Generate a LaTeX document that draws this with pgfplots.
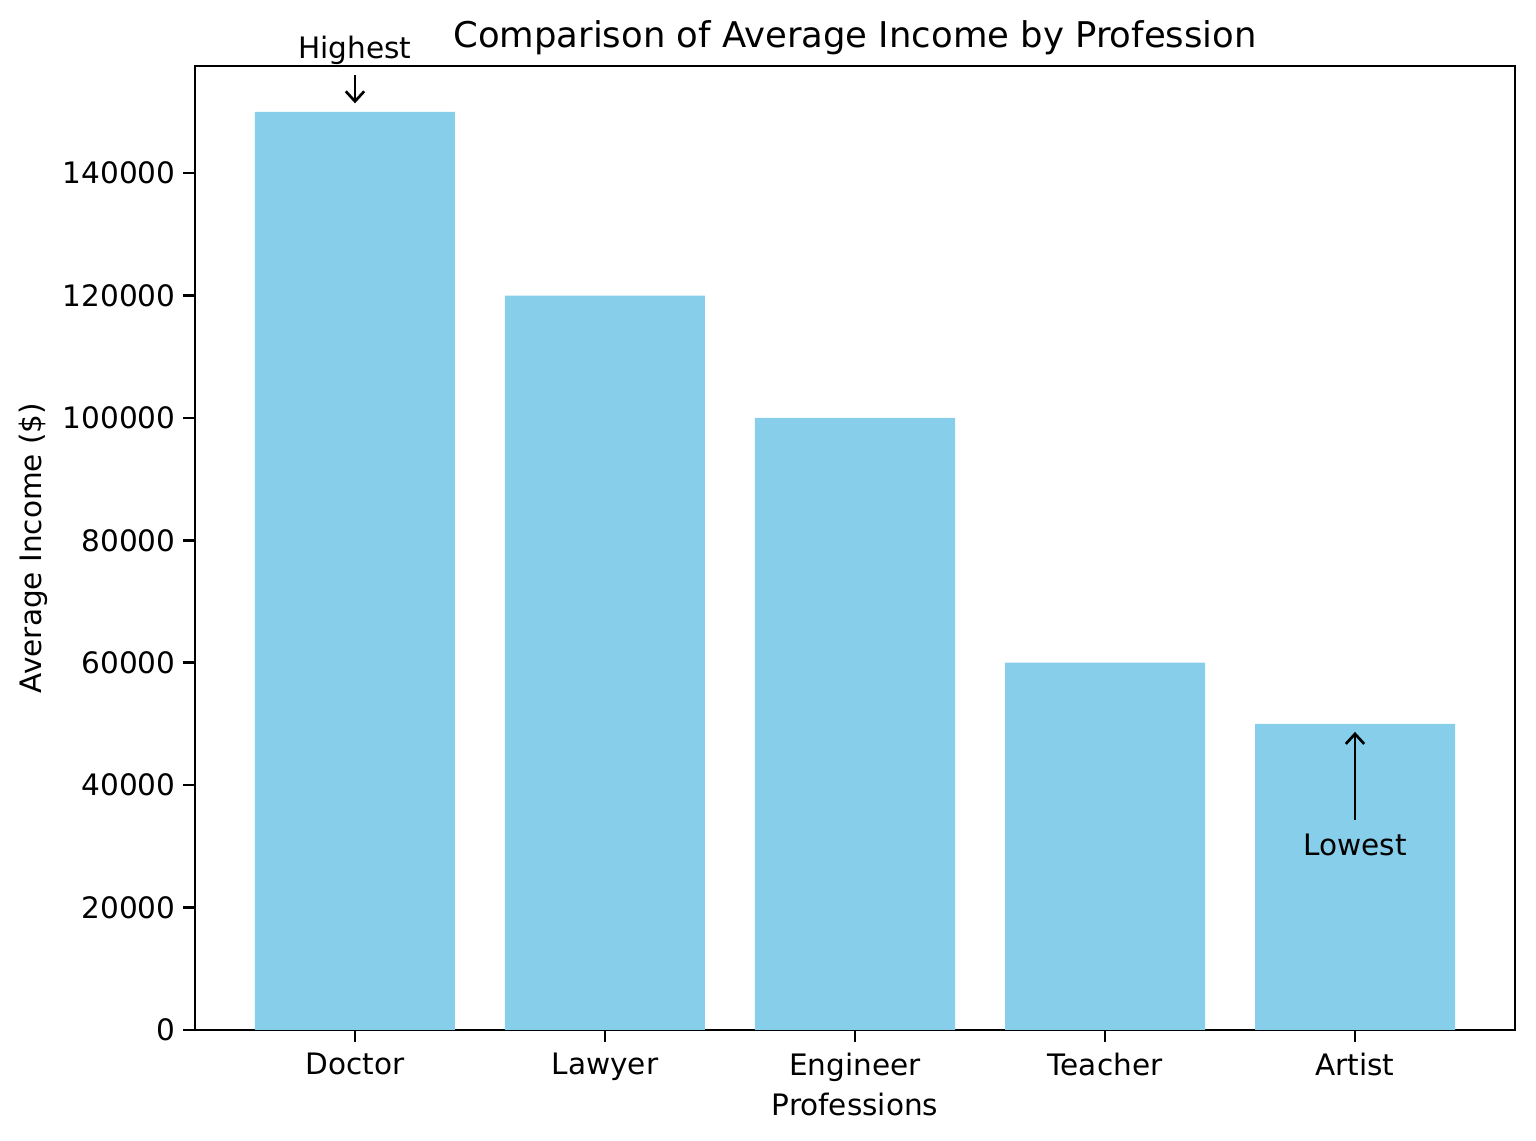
\documentclass[border=0pt]{standalone}
\usepackage{fontspec}
\setmainfont{DejaVu Sans}
\usepackage{pgfplots}
\pgfplotsset{compat=1.18}
\usetikzlibrary{arrows.meta}
\definecolor{skyblue}{HTML}{87CEEB}

\begin{document}
\begin{tikzpicture}
\begin{axis}[
    name=ax,
    scale only axis,
    width=396pt, height=289.2pt,
    ybar, bar width=0.8, bar shift=0pt,
    xmin=-0.64, xmax=4.64,
    ymin=0, ymax=157500,
    xtick=data,
    xticklabels={Doctor,Lawyer,Engineer,Teacher,Artist},
    ytick={0,20000,40000,60000,80000,100000,120000,140000},
    yticklabels={0,20000,40000,60000,80000,100000,120000,140000},
    scaled y ticks=false,
    tick align=outside,
    tick pos=left,
    major tick length=3.5pt,
    tick style={black, line width=0.8pt},
    axis line style={line width=0.8pt},
    ticklabel style={font=\fontsize{8.86}{10.6}\selectfont},
    yticklabel style={xshift=1.2pt},
    label style={font=\fontsize{8.86}{10.6}\selectfont},
    xlabel={Professions},
    ylabel={Average Income (\$)},
    xlabel style={at={(axis description cs:0.5,-0.0768)}, anchor=center},
    ylabel style={at={(axis description cs:-0.1227,0.5)}, anchor=center},
    clip=false,
]
\addplot[fill=skyblue, draw=none] coordinates {
    (0,150000)
    (1,120000)
    (2,100000)
    (3,60000)
    (4,50000)
};
\node[font=\fontsize{10.63}{12.8}\selectfont] at (axis description cs:0.5,1.0291) {Comparison of Average Income by Profession};
\draw[-{Straight Barb[length=3pt,width=5.5pt]}, line width=0.8pt] (axis cs:0,156000) -- (axis cs:0,151400);
\node[font=\fontsize{8.86}{10.6}\selectfont] at (axis cs:0,160100) {Highest};
\draw[-{Straight Barb[length=3pt,width=5.5pt]}, line width=0.8pt] (axis cs:4,34300) -- (axis cs:4,48700);
\node[font=\fontsize{8.86}{10.6}\selectfont] at (axis cs:4,30200) {Lowest};
\end{axis}
\pgfresetboundingbox
\path ([xshift=-58.5pt,yshift=-33.3pt]ax.south west) rectangle ([xshift=6.3pt,yshift=19.8pt]ax.north east);
\end{tikzpicture}
\end{document}
